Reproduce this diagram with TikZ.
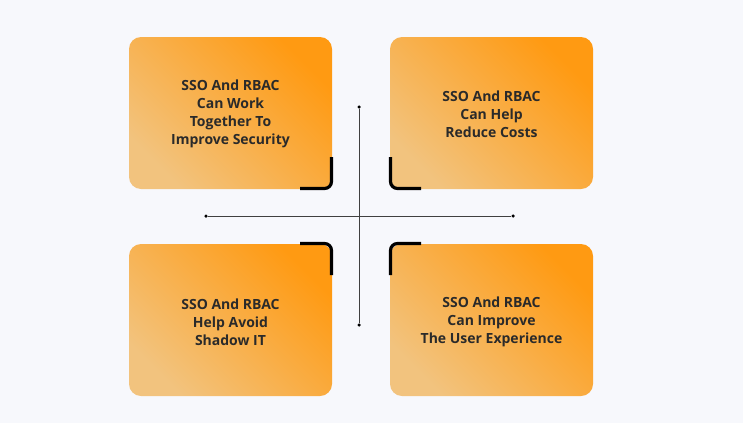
\documentclass[tikz,border=0pt]{standalone}
\usepackage{fontspec}
\setmainfont{Open Sans}
\begin{document}
\begin{tikzpicture}[x=1pt,y=-1pt,
 box/.style={rounded corners=12pt, shading=axis, left color=boxr, right color=boxl, shading angle=-45},
 lbl/.style={font=\bfseries\fontsize{14}{18}\selectfont, text=txt, align=center},
 brk/.style={line width=3.2pt, rounded corners=7pt, line cap=butt},
 ax/.style={line width=0.6pt, draw=black!75},
 dot/.style={circle, fill=black, inner sep=0pt, minimum size=3.5pt}]
\definecolor{boxl}{HTML}{F2C37E}
\definecolor{boxr}{HTML}{FF9A12}
\definecolor{txt}{HTML}{2A2A2A}
\fill[fill={rgb,255:red,247;green,248;blue,252}] (0,0) rectangle (743,423);
\useasboundingbox (0,0) rectangle (743,423);
\path[box] (129,37) rectangle (332,189);
\path[box] (390,37) rectangle (593,189);
\path[box] (129,244) rectangle (332,396);
\path[box] (390,244) rectangle (593,396);
\node[lbl] (a) at (230.5,114) {SSO And RBAC\\Can Work\\Together To\\Improve Security};
\node[lbl] (b) at (491.5,114) {SSO And RBAC\\Can Help\\Reduce Costs};
\node[lbl] (c) at (230.5,322) {SSO And RBAC\\Help Avoid\\Shadow IT};
\node[lbl] (d) at (491.5,322) {SSO And RBAC\\Can Improve\\The User Experience};
\draw[brk] (300,188.5) -- (331.5,188.5) -- (331.5,157);
\draw[brk] (390.5,157) -- (390.5,188.5) -- (421,188.5);
\draw[brk] (300,243.5) -- (331.5,243.5) -- (331.5,275);
\draw[brk] (390.5,275) -- (390.5,243.5) -- (421,243.5);
\node[dot] (l) at (206,216) {};
\node[dot] (r) at (513,216) {};
\node[dot] (t) at (359,107) {};
\node[dot] (bt) at (359,325) {};
\draw[ax] (l) -- (r);
\draw[ax] (t) -- (bt);
\end{tikzpicture}
\end{document}
